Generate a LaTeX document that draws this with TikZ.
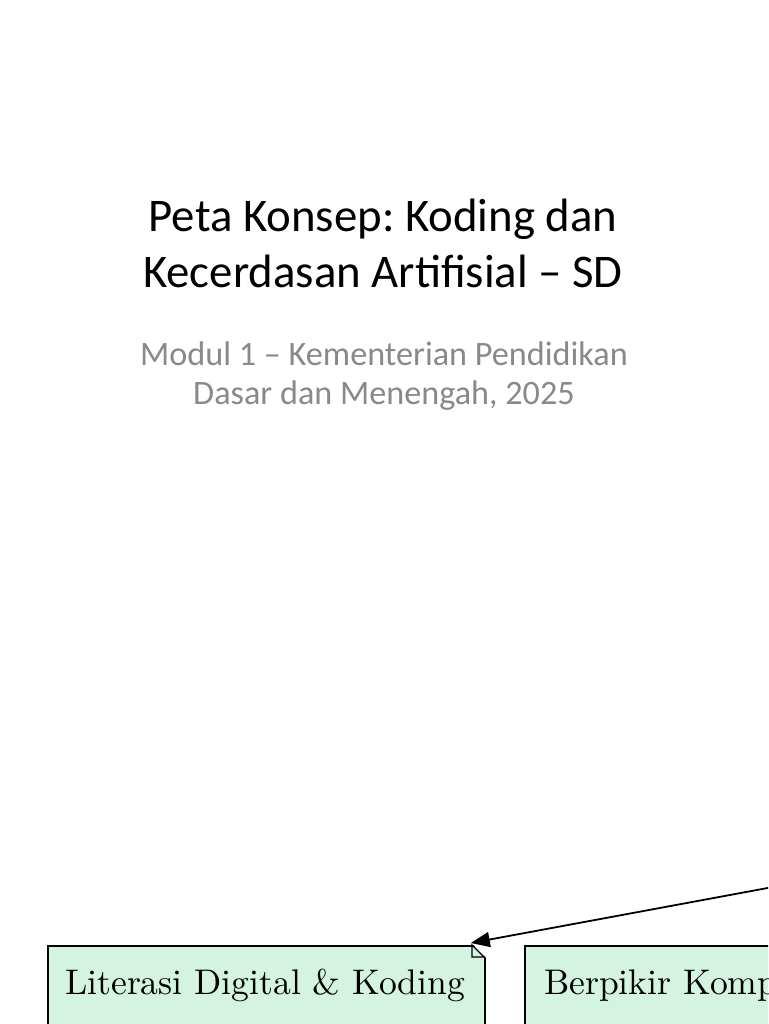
\documentclass[tikz,border=0pt]{standalone}
\usepackage{fontspec}
\newfontfamily\titlefont[Ligatures=TeX]{Carlito}
\newfontfamily\boxfont{lmroman10-regular.otf}
\usetikzlibrary{arrows.meta,calc}
\definecolor{boxgreen}{RGB}{212,243,225}
\definecolor{subgray}{RGB}{137,137,137}
\frenchspacing
\newlength{\litwidth}
\begin{document}
\settowidth{\litwidth}{\boxfont\fontsize{32}{36}\selectfont Literasi Digital \& Koding}
\pgfmathsetmacro{\boxscale}{400/\litwidth}
\begin{tikzpicture}[x=1pt,y=-1pt,
  titlestyle/.style={font=\titlefont\fontsize{46.8}{55}\selectfont, anchor=base, inner sep=0pt},
  substyle/.style={font=\titlefont\fontsize{34.2}{38}\selectfont, text=subgray, anchor=base, inner sep=0pt},
  conceptbox/.style={draw=black, line width=1.8pt, fill=boxgreen, anchor=north west, inner sep=0pt},
  boxtext/.style={font=\boxfont\fontsize{32}{36}\selectfont, anchor=base west, inner sep=0pt},
  arr/.style={draw=black, line width=1.8pt, -{Triangle[length=19pt,width=15pt]}}
]
\useasboundingbox (0,0) rectangle (768,1024);
\fill[white] (0,0) rectangle (768,1024);
\begin{scope}
\clip (0,0) rectangle (768,1024);
\node[titlestyle] (t1) at (383,232) {Peta Konsep: Koding dan};
\node[titlestyle] (t2) at (383,287) {Kecerdasan Artifisial – SD};
\node[substyle] (s1) at (384,365) {Modul 1 – Kementerian Pendidikan};
\node[substyle] (s2) at (384,404) {Dasar dan Menengah, 2025};

% box 1 (note shape)
\node[conceptbox, minimum width=437pt, minimum height=200pt] (lit) at (47,945) {};
\fill[white] (471.5,943) -- (487,943) -- (487,958.5) -- cycle;
\draw[line width=1.3pt, fill=boxgreen] (472,945) -- (472,957) -- (484,957) -- cycle;
\node[boxtext] (littext) at (65,994) {\scalebox{\boxscale}{Literasi Digital \& Koding}};

% box 2
\node[conceptbox, minimum width=400pt, minimum height=200pt] (bk) at (524,945) {};
\node[boxtext] (bktext) at (544,994) {\scalebox{\boxscale}{Berpikir Komputasional}};

% connector from off-page root
\coordinate (root) at (800,882);
\draw[arr] (root) -- ($(lit.north east)+(-15,-2)$);
\end{scope}
\end{tikzpicture}
\end{document}
